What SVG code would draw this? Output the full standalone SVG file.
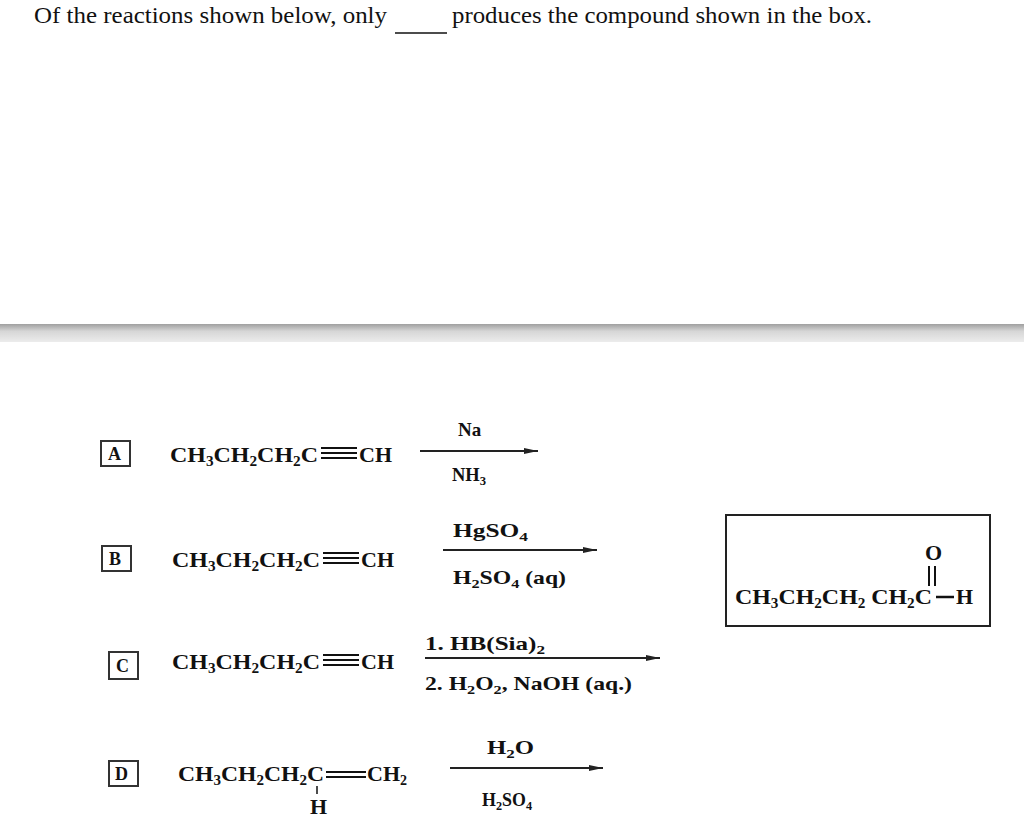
<svg xmlns="http://www.w3.org/2000/svg" width="1024" height="822" viewBox="0 0 1024 822">
<defs>
<linearGradient id="g" x1="0" y1="0" x2="0" y2="1"><stop offset="0" stop-color="#a0a0a0"/><stop offset="0.4" stop-color="#d6d6d6"/><stop offset="1" stop-color="#ececec"/></linearGradient>
<marker id="ah" viewBox="0 0 14 6" refX="14" refY="3" markerWidth="14" markerHeight="6" markerUnits="userSpaceOnUse" orient="auto"><path d="M0,0 L14,3 L0,6 Z" fill="#222"/></marker>
<style>
text{font-family:"Liberation Serif",serif;fill:#111}
.f{font-size:22px;font-weight:bold}
.r{font-size:19px;font-weight:bold}
.b{font-weight:bold;font-size:18px}
.lb{fill:none;stroke:#333;stroke-width:2}
.bd{stroke:#111;stroke-width:2}
.ar{stroke:#222;stroke-width:2;marker-end:url(#ah)}
</style>
</defs>
<rect width="1024" height="822" fill="#fff"/>
<text x="34" y="23" font-size="24" textLength="353" lengthAdjust="spacingAndGlyphs">Of the reactions shown below, only</text>
<line x1="395" y1="33" x2="447" y2="33" stroke="#111" stroke-width="1.5"/>
<text x="452" y="23" font-size="24" textLength="420" lengthAdjust="spacingAndGlyphs">produces the compound shown in the box.</text>
<rect x="0" y="324" width="1024" height="18" fill="url(#g)"/>

<g id="nodeA">
<rect class="lb" x="101" y="441" width="29" height="25"/><text class="b" x="108" y="460">A</text>
<text class="f" x="170" y="462" textLength="148" lengthAdjust="spacingAndGlyphs">CH<tspan font-size="14" dy="4">3</tspan><tspan dy="-4">CH</tspan><tspan font-size="14" dy="4">2</tspan><tspan dy="-4">CH</tspan><tspan font-size="14" dy="4">2</tspan><tspan dy="-4">C</tspan></text>
<path class="bd" d="M321,448H357M321,453H357M321,458H357" stroke-width="2"/>
<text class="f" x="359" y="462">CH</text>
</g>
<g id="nodeB">
<rect class="lb" x="102" y="546" width="29" height="25"/><text class="b" x="109" y="565">B</text>
<text class="f" x="172" y="567" textLength="148" lengthAdjust="spacingAndGlyphs">CH<tspan font-size="14" dy="4">3</tspan><tspan dy="-4">CH</tspan><tspan font-size="14" dy="4">2</tspan><tspan dy="-4">CH</tspan><tspan font-size="14" dy="4">2</tspan><tspan dy="-4">C</tspan></text>
<path class="bd" d="M323,553H359M323,558H359M323,563H359" stroke-width="2"/>
<text class="f" x="361" y="567">CH</text>
</g>
<g id="nodeC">
<rect class="lb" x="109" y="652" width="29" height="27"/><text class="b" x="116" y="672">C</text>
<text class="f" x="172" y="669" textLength="148" lengthAdjust="spacingAndGlyphs">CH<tspan font-size="14" dy="4">3</tspan><tspan dy="-4">CH</tspan><tspan font-size="14" dy="4">2</tspan><tspan dy="-4">CH</tspan><tspan font-size="14" dy="4">2</tspan><tspan dy="-4">C</tspan></text>
<path class="bd" d="M323,655H359M323,660H359M323,665H359" stroke-width="2"/>
<text class="f" x="361" y="669">CH</text>
</g>
<g id="nodeD">
<rect class="lb" x="109" y="761" width="29" height="25"/><text class="b" x="115" y="780">D</text>
<text class="f" x="178" y="781" textLength="146" lengthAdjust="spacingAndGlyphs">CH<tspan font-size="14" dy="4">3</tspan><tspan dy="-4">CH</tspan><tspan font-size="14" dy="4">2</tspan><tspan dy="-4">CH</tspan><tspan font-size="14" dy="4">2</tspan><tspan dy="-4">C</tspan></text>
<path class="bd" d="M326,772H366M326,777H366" stroke-width="2"/>
<line x1="317" y1="786" x2="317" y2="794" stroke="#111" stroke-width="1.5"/>
<text class="f" x="310" y="814" font-size="19">H</text>
<text class="f" x="367" y="781">CH<tspan font-size="14" dy="4">2</tspan></text>
</g>
<g id="product">
<rect x="726" y="515" width="264" height="111" fill="none" stroke="#222" stroke-width="2"/>
<text class="f" x="735" y="604" textLength="197" lengthAdjust="spacingAndGlyphs">CH<tspan font-size="14" dy="4">3</tspan><tspan dy="-4">CH</tspan><tspan font-size="14" dy="4">2</tspan><tspan dy="-4">CH</tspan><tspan font-size="14" dy="4">2</tspan><tspan dy="-4"> CH</tspan><tspan font-size="14" dy="4">2</tspan><tspan dy="-4">C</tspan></text>
<text class="f" x="925" y="560" font-size="18">O</text>
<path class="bd" d="M929,566V586M935,566V586" stroke-width="2"/>
<line x1="936" y1="597" x2="954" y2="597" stroke="#111" stroke-width="2.5"/>
<text class="f" x="956" y="604">H</text>
</g>
<g id="connectors">
<line class="ar" x1="420" y1="451" x2="538" y2="451"/>
<text class="r" x="458" y="436">Na</text>
<text class="r" x="452" y="481" textLength="34" lengthAdjust="spacingAndGlyphs">NH<tspan font-size="13" dy="4">3</tspan></text>
<line class="ar" x1="443" y1="550" x2="597" y2="550"/>
<text class="r" x="453" y="537" textLength="75" lengthAdjust="spacingAndGlyphs">HgSO<tspan font-size="13" dy="4">4</tspan></text>
<text class="r" x="453" y="584" textLength="113" lengthAdjust="spacingAndGlyphs">H<tspan font-size="13" dy="4">2</tspan><tspan dy="-4">SO</tspan><tspan font-size="13" dy="4">4</tspan><tspan dy="-4"> (aq)</tspan></text>
<line class="ar" x1="425" y1="658" x2="660" y2="658"/>
<text class="r" x="425" y="650" textLength="120" lengthAdjust="spacingAndGlyphs">1. HB(Sia)<tspan font-size="13" dy="4">2</tspan></text>
<text class="r" x="425" y="690" textLength="207" lengthAdjust="spacingAndGlyphs">2. H<tspan font-size="13" dy="4">2</tspan><tspan dy="-4">O</tspan><tspan font-size="13" dy="4">2</tspan><tspan dy="-4">, NaOH (aq.)</tspan></text>
<line class="ar" x1="450" y1="768" x2="603" y2="768"/>
<text class="r" x="487" y="754" textLength="47" lengthAdjust="spacingAndGlyphs">H<tspan font-size="13" dy="4">2</tspan><tspan dy="-4">O</tspan></text>
<text class="r" x="482" y="806" textLength="50" lengthAdjust="spacingAndGlyphs">H<tspan font-size="13" dy="4">2</tspan><tspan dy="-4">SO</tspan><tspan font-size="13" dy="4">4</tspan></text>
</g>
</svg>
